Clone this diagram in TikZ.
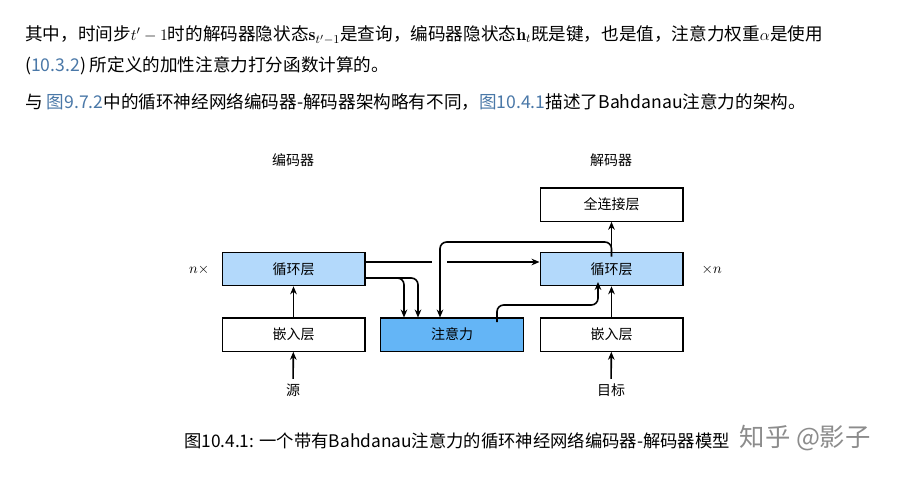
\documentclass[tikz,border=0pt]{standalone}
\usepackage{fontspec}
\newfontfamily\cjk{Noto Sans CJK SC}
\usetikzlibrary{arrows.meta}
\definecolor{lb}{HTML}{B3D9FB}
\definecolor{mb}{HTML}{64B5F6}
\definecolor{lk}{HTML}{4A78A8}
\tikzset{
 box/.style={draw=black,line width=1pt,minimum width=107pt,minimum height=25pt,font=\cjk\fontsize{10.5}{12}\selectfont,inner sep=0pt},
 lbl/.style={font=\cjk\fontsize{10.5}{12}\selectfont},
 ar/.style={line width=1.2pt,-{Stealth[length=6pt,width=5pt]},rounded corners=5pt},
 para/.style={anchor=west,font=\cjk\fontsize{13.2}{15}\selectfont,inner sep=0pt}
}
\begin{document}
\begin{tikzpicture}[x=0.75pt,y=-0.75pt]
\useasboundingbox (0,0) rectangle (904,476);
\fill[white] (0,0) rectangle (904,476);
\node[para] (p1) at (25,35) {其中，时间步$t'-1$时的解码器隐状态$\mathbf{s}_{t'-1}$是查询，编码器隐状态$\mathbf{h}_t$既是键，也是值，注意力权重$\alpha$是使用};
\node[para] (p2) at (25,66) {(\textcolor{lk}{10.3.2}) 所定义的加性注意力打分函数计算的。};
\node[para] (p3) at (25,102) {与 \textcolor{lk}{图9.7.2}中的循环神经网络编码器-解码器架构略有不同，\textcolor{lk}{图10.4.1}描述了Bahdanau注意力的架构。};

\node[lbl] (enc) at (293,160) {编码器};
\node[lbl] (dec) at (611,160) {解码器};
\node[box,fill=lb] (ernn) at (293.5,269) {循环层};
\node[box] (eemb) at (293.5,334.5) {嵌入层};
\node[box,fill=mb] (att) at (452,334.5) {注意力};
\node[box,fill=lb] (drnn) at (611.5,269) {循环层};
\node[box] (demb) at (611.5,334.5) {嵌入层};
\node[box] (fc) at (611.5,204.5) {全连接层};
\node[lbl] (src) at (293,390) {源};
\node[lbl] (tgt) at (611,390) {目标};
\node[lbl,anchor=east] (nl) at (214,270) {$n\times$};
\node[lbl,anchor=west] (nr) at (697,270) {$\times n$};
\coordinate (gapL) at (432,262);
\coordinate (gapR) at (447,262);

\draw[ar] (src) -- (eemb);
\draw[ar] (eemb) -- (ernn);
\draw[ar] (tgt) -- (demb);
\draw[ar] (demb) -- (drnn);
\draw[ar] (drnn.north) -- (fc);
\draw[line width=1.2pt] (ernn.east |- gapL) -- (gapL);
\draw[ar] (gapR) -- (drnn.west |- gapR);
\draw[ar] (ernn.east |- 0,278) -- (404,278) -- (404,317.5);
\draw[ar] (ernn.east |- 0,278) -- (418,278) -- (418,317.5);
\draw[ar] (611.5,256.5) -- (611.5,242) -- (440,242) -- (440,317.5);
\draw[ar] (497,322) -- (497,305) -- (598,305) -- (598,282);

\node[font=\cjk\fontsize{13}{15}\selectfont] (cap) at (457,441) {图10.4.1: 一个带有Bahdanau注意力的循环神经网络编码器-解码器模型};
\node[font=\cjk\fontsize{19}{21}\selectfont,text=black!45,anchor=west] (wm) at (735,438) {知乎 @影子};
\end{tikzpicture}
\end{document}
